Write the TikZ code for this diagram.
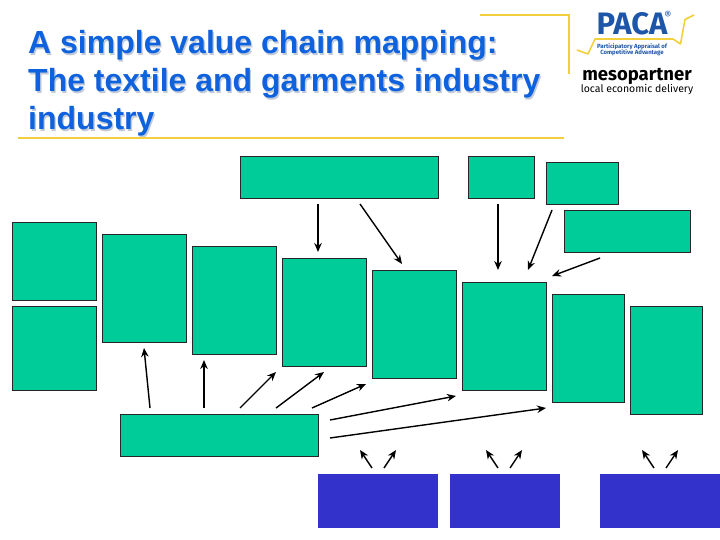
\documentclass[tikz,border=0pt]{standalone}
\usepackage{fontspec}
\setmainfont{Liberation Sans}
\newfontfamily\logofont{Fira Sans}
\definecolor{boxgreen}{HTML}{00CC99}
\definecolor{boxblue}{HTML}{3333CC}
\definecolor{titleblue}{HTML}{0F62DE}
\definecolor{titleshadow}{HTML}{C2CAD8}
\definecolor{rule}{HTML}{F2D03C}
\definecolor{pacablue}{HTML}{1D55A8}
\usetikzlibrary{arrows.meta}
\tikzset{
  x=1pt,y=-1pt,
  gbox/.style={draw=black!85,line width=0.8pt,fill=boxgreen,inner sep=0pt,anchor=north west},
  bbox/.style={draw=none,fill=boxblue,inner sep=0pt,anchor=north west},
  conn/.style={draw=black,line width=1.4pt,-{Stealth[length=9pt,width=7.5pt]}},
  plainline/.style={draw=rule,line width=1.5pt},
  titletext/.style={anchor=base west,inner sep=0pt,font=\fontsize{32}{38}\selectfont\bfseries},
}
\newcommand{\gb}[5]{\node[gbox,minimum width=#4-#2,minimum height=#5-#3] (#1) at (#2,#3) {};}
\newcommand{\bb}[5]{\node[bbox,minimum width=#4-#2,minimum height=#5-#3] (#1) at (#2,#3) {};}
\newcommand{\arr}[5]{\coordinate (#1s) at (#2,#3);\coordinate (#1e) at (#4,#5);\draw[conn] (#1s) -- (#1e);}
\begin{document}
\begin{tikzpicture}
\useasboundingbox (0,0) rectangle (720,540);
% title
\foreach \dx/\col in {1.3/titleshadow,0/titleblue}{
  \node[titletext,text=\col] (t1\col) at (28+\dx,54+\dx) {A simple value chain mapping:};
  \node[titletext,text=\col] (t2\col) at (28+\dx,92+\dx) {The textile and garments industry};
  \node[titletext,text=\col] (t3\col) at (28+\dx,130+\dx) {industry};
}
% rules
\draw[plainline] (18,138) -- (564,138);
\draw[plainline] (480,15) -- (569,15) -- (569,74);
% logo
\draw[rule,line width=1.6pt,line join=round] (577,50) -- (588,54) -- (595,39) -- (673,39) -- (680.5,44) -- (685,19.5) -- (694,15);
\node[anchor=base,inner sep=0pt,text=pacablue,font=\logofont\fontsize{31}{31}\selectfont\bfseries] (paca) at (632,35) {PACA};
\node[inner sep=0pt,text=pacablue,font=\logofont\fontsize{11}{11}\selectfont] (reg) at (668,15) {®};
\node[inner sep=0pt,text=pacablue,font=\logofont\fontsize{6}{6.5}\selectfont\bfseries,align=center] (pacasub) at (632,49.5) {Participatory Appraisal of\\Competitive Advantage};
\node[anchor=base,inner sep=0pt,text=black,font=\logofont\fontsize{18.5}{18}\selectfont\bfseries] (meso) at (637,81) {mesopartner};
\node[anchor=base,inner sep=0pt,text=black,font=\logofont\fontsize{10.5}{10}\selectfont] (local) at (637,93) {local economic delivery};
% boxes
\gb{top1}{240}{156}{438}{198}
\gb{top2}{468}{156}{534}{198}
\gb{top3}{546}{162}{618}{204}
\gb{right1}{564}{210}{690}{252}
\gb{la}{12}{222}{96}{300}
\gb{lb}{12}{306}{96}{390}
\gb{c}{102}{234}{186}{342}
\gb{d}{192}{246}{276}{354}
\gb{e}{282}{258}{366}{366}
\gb{f}{372}{270}{456}{378}
\gb{g}{462}{282}{546}{390}
\gb{h}{552}{294}{624}{402}
\gb{i}{630}{306}{702}{414}
\gb{bottom}{120}{414}{318}{456}
\bb{b1}{318}{474}{438}{528}
\bb{b2}{450}{474}{560}{528}
\bb{b3}{600}{474}{720}{528}
% connectors
\arr{a1}{150}{408}{144}{348}
\arr{a2}{204}{408}{204}{360}
\arr{a3}{240}{408}{276}{372}
\arr{a4}{276}{408}{324}{372}
\arr{a5}{312}{408}{366}{384}
\arr{a6}{330}{420}{456}{396}
\arr{a7}{330}{438}{546}{408}
\arr{a8}{318}{204}{318}{252}
\arr{a9}{360}{204}{402}{264}
\arr{a10}{498}{204}{498}{270}
\arr{a11}{552}{210}{528}{270}
\arr{a12}{600}{258}{552}{276}
\arr{a13}{372}{468}{360}{450}
\arr{a14}{384}{468}{396}{450}
\arr{a15}{498}{468}{486}{450}
\arr{a16}{510}{468}{522}{450}
\arr{a17}{654}{468}{642}{450}
\arr{a18}{666}{468}{678}{450}
\end{tikzpicture}
\end{document}
